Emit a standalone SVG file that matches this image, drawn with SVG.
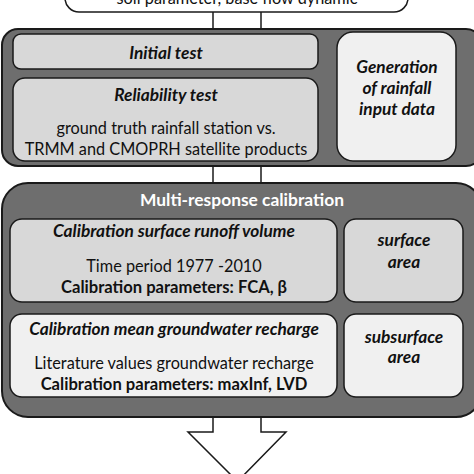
<svg xmlns="http://www.w3.org/2000/svg" width="474" height="474" viewBox="0 0 474 474">
<style>
.t{font-family:Lato,"Open Sans","Liberation Sans",sans-serif;font-size:16.3px;fill:#111;text-anchor:middle}
.bi{font-weight:bold;font-style:italic;font-size:17.3px}
.b{font-weight:bold;font-size:16.6px}
.w{fill:#fff;font-size:17.4px}
.dark{fill:#6e6e6e;stroke:#1a1a1a;stroke-width:2}
.lg{fill:#d8d8d8;stroke:#1a1a1a;stroke-width:1.5}
.ll{fill:#f0f0f0;stroke:#1a1a1a;stroke-width:1.5}
.ln{stroke:#1a1a1a;stroke-width:1.5;fill:none}
</style>
<g id="top-box">
<rect x="65" y="-30" width="343" height="42" rx="14" fill="#fff" stroke="#1a1a1a" stroke-width="1.5"/>
<text class="t" x="237" y="4">soil parameter, base flow dynamic</text>
</g>
<g id="connectors">
<line class="ln" x1="213" y1="12" x2="213" y2="30"/>
<line class="ln" x1="261" y1="12" x2="261" y2="30"/>
<line class="ln" x1="213" y1="69" x2="213" y2="78"/>
<line class="ln" x1="261" y1="69" x2="261" y2="78"/>
<line class="ln" x1="213" y1="166" x2="213" y2="183"/>
<line class="ln" x1="261" y1="166" x2="261" y2="183"/>
<path d="M213,417 V432 H188 L237.5,481.5 L286,432 H261 V417" fill="#fff" stroke="#1a1a1a" stroke-width="1.5"/>
</g>
<g id="group1">
<rect class="dark" x="2" y="29" width="480" height="137" rx="16"/>
</g>
<g id="initial-test">
<rect class="lg" x="13" y="34" width="305" height="35" rx="8"/>
<text class="t bi" x="166" y="59">Initial test</text>
</g>
<g id="reliability-test">
<rect class="lg" x="13" y="78" width="305" height="83" rx="12"/>
<text class="t bi" x="166" y="101">Reliability test</text>
<text class="t" x="166" y="134">ground truth rainfall station vs.</text>
<text class="t" x="166" y="155">TRMM and CMOPRH satellite products</text>
</g>
<g id="generation">
<rect class="ll" x="337" y="32" width="119" height="129" rx="16"/>
<text class="t bi" x="397" y="73">Generation</text>
<text class="t bi" x="397" y="94">of rainfall</text>
<text class="t bi" x="397" y="115">input data</text>
</g>
<g id="group2">
<rect class="dark" x="2" y="183" width="480" height="234" rx="26"/>
<text class="t b w" x="242" y="206">Multi-response calibration</text>
</g>
<g id="surface-runoff">
<rect class="lg" x="10" y="219" width="327" height="83" rx="12"/>
<text class="t bi" x="174" y="237">Calibration surface runoff volume</text>
<text class="t" x="174" y="272">Time period 1977 -2010</text>
<text class="t b" x="174" y="293">Calibration parameters: FCA, β</text>
</g>
<g id="surface-area">
<rect class="lg" x="344" y="219" width="119" height="83" rx="12"/>
<text class="t bi" x="404" y="246">surface</text>
<text class="t bi" x="404" y="268">area</text>
</g>
<g id="groundwater">
<rect class="ll" x="10" y="314" width="327" height="83" rx="12"/>
<text class="t bi" x="174" y="335">Calibration mean groundwater recharge</text>
<text class="t" x="174" y="369">Literature values groundwater recharge</text>
<text class="t b" x="174" y="390">Calibration parameters: maxInf, LVD</text>
</g>
<g id="subsurface-area">
<rect class="ll" x="344" y="314" width="119" height="83" rx="12"/>
<text class="t bi" x="404" y="343">subsurface</text>
<text class="t bi" x="404" y="363">area</text>
</g>
</svg>
